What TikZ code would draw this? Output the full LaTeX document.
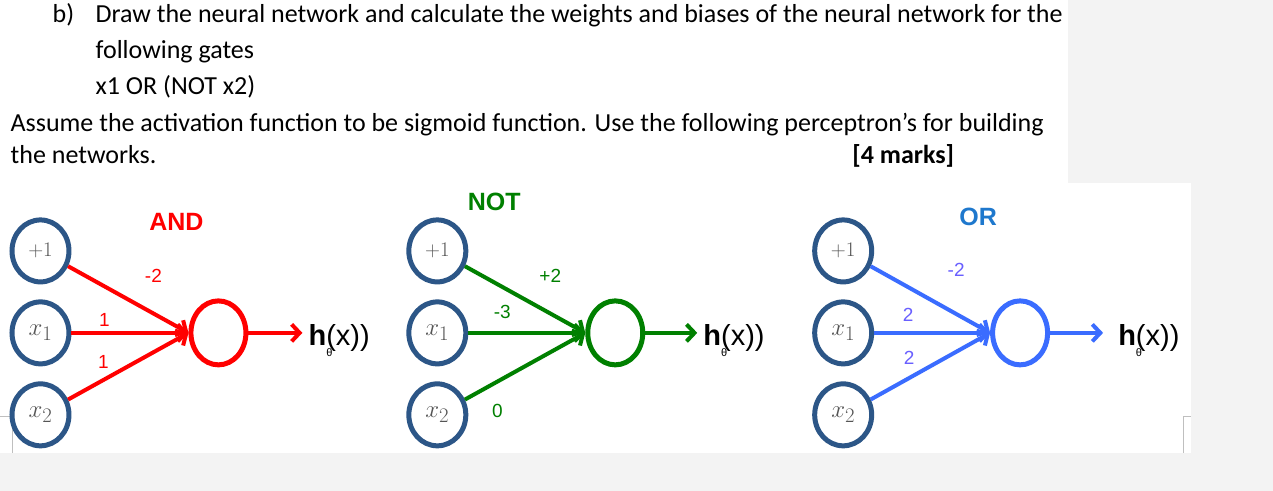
\documentclass[tikz,border=0pt]{standalone}
\usepackage{fontspec}
\setmainfont{Carlito}
\newfontfamily\arialfont{Liberation Sans}
\usetikzlibrary{arrows.meta,positioning,shapes.geometric}
\definecolor{pagegray}{RGB}{243,243,243}
\definecolor{inblue}{RGB}{44,86,135}
\definecolor{notgreen}{RGB}{0,128,0}
\definecolor{orblue}{RGB}{58,108,255}
\definecolor{ortitle}{RGB}{30,120,205}
\definecolor{orlabel}{RGB}{105,95,255}
\definecolor{mathgray}{RGB}{85,85,85}
\tikzset{
  input/.style={ellipse,draw=inblue,line width=5pt,minimum width=57pt,minimum height=62pt,inner sep=0pt,text=mathgray,font=\fontsize{20}{20}\selectfont},
  xin/.style={input,font=\fontsize{29}{29}\selectfont},
  neuron/.style={ellipse,line width=5pt,minimum width=55pt,minimum height=64pt,inner sep=0pt},
  wire/.style={line width=4pt,-{Straight Barb[length=8pt,width=17pt]}},
  gate/.style={font=\arialfont\bfseries\fontsize{25}{25}\selectfont},
  weight/.style={font=\arialfont\fontsize{19}{19}\selectfont},
  hout/.style={anchor=base west,inner sep=0pt,font=\arialfont\fontsize{29}{29}\selectfont},
  para/.style={anchor=base west,inner sep=0pt,font=\fontsize{26}{26}\selectfont},
}
\newcommand{\hval}{{\bfseries h}\rlap{\raisebox{-0.35em}{\fontsize{11}{11}\selectfont θ}}(x))}
\begin{document}
\begin{tikzpicture}[x=1pt,y=-1pt]
% page
\fill[pagegray] (0,0) rectangle (1273,491);
\fill[white] (0,0) rectangle (1068,183);
\fill[white] (0,183) rectangle (1191,453);
\draw[black!25,line width=1pt] (0,417) -- (12,417) -- (12,453);
\draw[black!25,line width=1pt] (1191,417) -- (1183,417) -- (1183,453);
%
\node (qb) [para] at (52,23) {b)};
\node (q1) [para] at (95,23) {Draw the neural network and calculate the weights and biases of the neural network for the};
\node (q2) [para] at (95,59) {following gates};
\node (q3) [para] at (95,95) {x1 OR (NOT x2)};
\node (q4) [para] at (10,132) {Assume the activation function to be sigmoid function. Use the following perceptron’s for building};
\node (q5) [para] at (10,164) {the networks.};
\node (mk) [para,font=\bfseries\fontsize{26}{26}\selectfont] at (852,164) {[4 marks]};
%
% AND
\node (a0) [input] at (40,251) {$+1$};
\node (a1) [xin] at (40,333) {$x_1$};
\node (a2) [xin] at (40,415) {$x_2$};
\node (an) [neuron,draw=red] at (218,333) {};
\coordinate (ao) at (302,333);
\path[wire,red] (a0) edge (an.west) (a1) edge (an.west) (a2) edge (an.west) (an) edge (ao);
\node (at) [gate,text=red] at (176,222) {AND};
\node (aw0) [weight,text=red] at (153,276) {-2};
\node (aw1) [weight,text=red] at (104,320) {1};
\node (aw2) [weight,text=red] at (103,362) {1};
\node (ah) [hout] at (308,346) {\hval};
%
% NOT
\node (n0) [input] at (437,251) {$+1$};
\node (n1) [xin] at (437,333) {$x_1$};
\node (n2) [xin] at (437,415) {$x_2$};
\node (nn) [neuron,draw=notgreen] at (615,333) {};
\coordinate (no) at (697,333);
\path[wire,notgreen] (n0) edge (nn.west) (n1) edge (nn.west) (n2) edge (nn.west) (nn) edge (no);
\node (nt) [gate,text=notgreen] at (494,202) {NOT};
\node (nw0) [weight,text=notgreen] at (550,276) {+2};
\node (nw1) [weight,text=notgreen] at (502,312) {-3};
\node (nw2) [weight,text=notgreen] at (497,411) {0};
\node (nh) [hout] at (703,346) {\hval};
%
% OR
\node (o0) [input] at (843,251) {$+1$};
\node (o1) [xin] at (843,333) {$x_1$};
\node (o2) [xin] at (843,415) {$x_2$};
\node (on) [neuron,draw=orblue] at (1020,333) {};
\coordinate (oo) at (1103,333);
\path[wire,orblue] (o0) edge (on.west) (o1) edge (on.west) (o2) edge (on.west) (on) edge (oo);
\node (ot) [gate,text=ortitle] at (978,217) {OR};
\node (ow0) [weight,text=orlabel] at (956,270) {-2};
\node (ow1) [weight,text=orlabel] at (908,315) {2};
\node (ow2) [weight,text=orlabel] at (909,358) {2};
\node (oh) [hout] at (1118,346) {\hval};
\end{tikzpicture}
\end{document}
